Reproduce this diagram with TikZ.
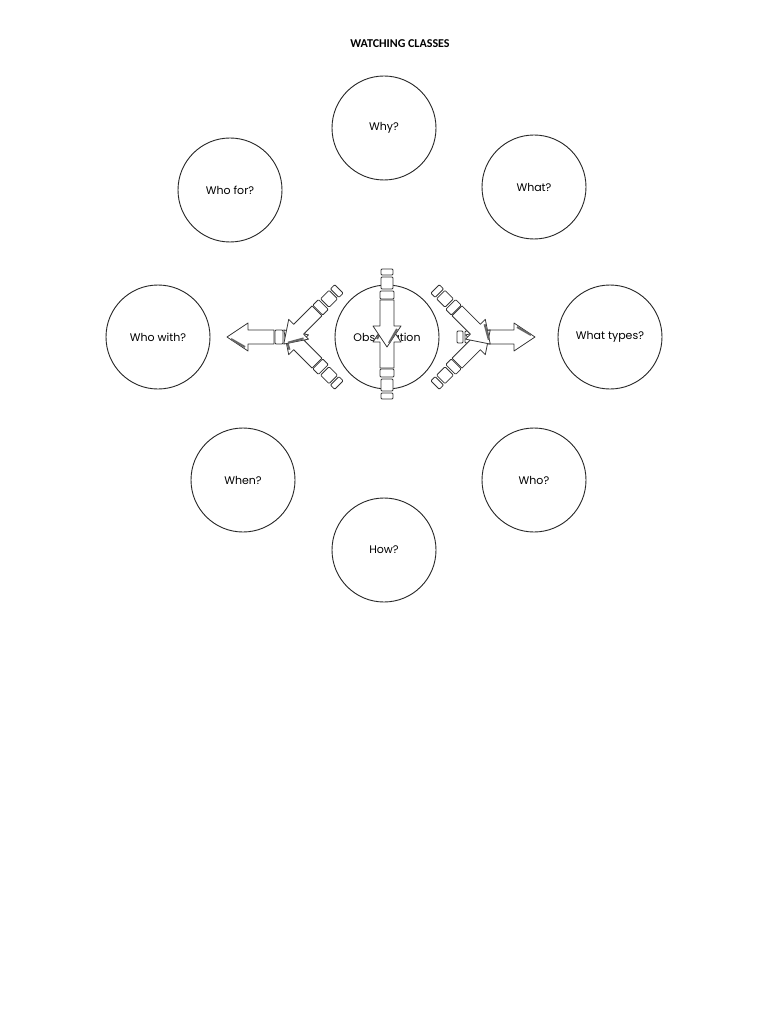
\documentclass[tikz,border=0pt]{standalone}
\usepackage{fontspec}
\setmainfont{Poppins}
\newfontfamily\titlefont{Carlito}
\usetikzlibrary{calc}
\tikzset{
  bubble/.style={draw=black!85,line width=0.9pt,circle,minimum size=104pt,inner sep=0pt,font=\fontsize{11}{13}\selectfont},
  seg/.style={draw=black!80,line width=0.8pt,fill=white},
}
\newcommand{\fatarrow}[2]{%
  \begin{scope}[shift={($(obs)+(#1:#2)$)},rotate=#1]
    \draw[seg,rounded corners=1pt] (0,-6) rectangle (6,6);
    \draw[seg,rounded corners=1pt] (8,-6) rectangle (20,6);
    \draw[seg,rounded corners=1pt] (22,-7) rectangle (30,7);
    \draw[seg,line join=round] (31,-7) -- (57,-7) -- (57,-14) -- (78,0) -- (57,14) -- (57,7) -- (31,7) -- cycle;
    \draw[black!60,line width=2pt] (60,-10) -- (74,-2);
  \end{scope}}
\begin{document}
\begin{tikzpicture}[x=1pt,y=-1pt]
\fill[white] (0,0) rectangle (768,1024);
\useasboundingbox (0,0) rectangle (768,1024);
\node[font=\titlefont\bfseries\fontsize{12}{14}\selectfont] (title) at (400,44) {WATCHING CLASSES};
\node[bubble] (obs) at (387,337) {Observation};
\node[bubble] (why) at (384,128) {Why?};
\node[bubble] (what) at (534,187) {What?};
\node[bubble] (types) at (610,337) {What types?};
\node[bubble] (who) at (534,480) {Who?};
\node[bubble] (how) at (384,550) {How?};
\node[bubble] (when) at (243,480) {When?};
\node[bubble] (with) at (158,337) {Who with?};
\node[bubble] (for) at (230,190) {Who for?};
\fatarrow{0}{70}
\fatarrow{180}{82}
\fatarrow{90}{62}
\fatarrow{270}{68}
\fatarrow{45}{68}
\fatarrow{135}{68}
\fatarrow{225}{68}
\fatarrow{315}{68}
\end{tikzpicture}
\end{document}
